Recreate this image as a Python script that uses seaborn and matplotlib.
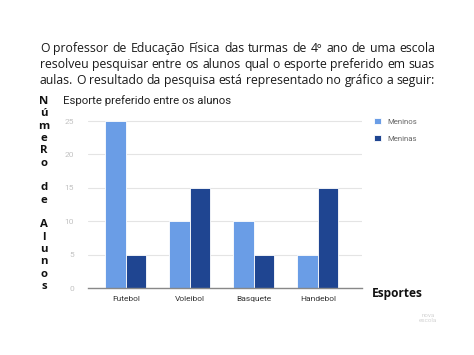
import pandas as pd
import seaborn as sns
import matplotlib.pyplot as plt

esportes = ['Futebol', 'Voleibol', 'Basquete', 'Handebol']
meninos = [25, 10, 10, 5]
meninas = [5, 15, 5, 15]
yticks = [0, 5, 10, 15, 20, 25]

paragrafo = [
    "O professor de Educação Física das turmas de 4º ano de uma escola",
    "resolveu pesquisar entre os alunos qual o esporte preferido em suas",
    "aulas. O resultado da pesquisa está representado no gráfico a seguir:",
]


def justify_line(fig, text, x0, x1, y, **kw):
    # place words so the line fills x0..x1 (figure pixels)
    r = fig.canvas.get_renderer()
    words = text.split()
    arts, widths = [], []
    for w in words:
        t = fig.text(0, 0, w, transform=None, va='baseline', ha='left', **kw)
        bb = t.get_window_extent(renderer=r)
        arts.append(t)
        widths.append(bb.width)
    gap = (x1 - x0 - sum(widths)) / (len(words) - 1)
    x = x0
    H = fig.bbox.height
    for t, w in zip(arts, widths):
        t.set_position((x, H - y))
        x += w + gap


def main():
    sns.set_style("white")
    plt.rcParams['font.family'] = ['Roboto', 'DejaVu Sans']

    df = pd.DataFrame({
        'Esporte': esportes * 2,
        'Valor': meninos + meninas,
        'Grupo': ['Meninos'] * 4 + ['Meninas'] * 4,
    })

    fig = plt.figure(figsize=(4.74, 3.55), dpi=100)
    ax = fig.add_axes([0.1857, 0.1887, 0.578, 0.4986])
    sns.barplot(data=df, x='Esporte', y='Valor', hue='Grupo', ax=ax,
                palette={'Meninos': '#6a9de6', 'Meninas': '#1f4591'},
                width=0.64, edgecolor='white', linewidth=0.6, saturation=1)

    ax.set_xlim(-0.59, 3.69)
    ax.set_ylim(0, 26.5)
    ax.set_yticks(yticks)
    ax.yaxis.grid(True, color='#e4e4e4', linewidth=0.8)
    ax.set_axisbelow(True)
    for s in ['top', 'right', 'left']:
        ax.spines[s].set_visible(False)
    ax.spines['bottom'].set_color('#888888')
    ax.spines['bottom'].set_linewidth(1.0)
    ax.tick_params(axis='y', length=0, labelsize=6, labelcolor='#c2c2c2', pad=10)
    ax.tick_params(axis='x', length=0, labelsize=6, labelcolor='#333333', pad=6)
    ax.set_xlabel('')
    ax.set_ylabel('')

    ax.legend(loc='upper left', bbox_to_anchor=(1.02, 1.0), frameon=False,
              fontsize=5.6, labelcolor='#666666', handlelength=0.9,
              handleheight=0.9, labelspacing=1.25, handletextpad=0.8)

    fig.text(63 / 474, 1 - 101 / 355, 'Esporte preferido entre os alunos',
             fontsize=8.2, color='#222222', va='center', ha='left')

    fig.text(44 / 474, 1 - 194 / 355,
             "N\nú\nm\ne\nR\no\n\nd\ne\n\nA\nl\nu\nn\no\ns",
             fontsize=8.2, fontweight='bold', family=['Open Sans', 'DejaVu Sans'],
             ha='center', va='center', linespacing=1.17, color='#111111')

    fig.text(372 / 474, 1 - 293 / 355, 'Esportes', fontsize=8.6,
             fontweight='bold', family=['Open Sans', 'DejaVu Sans'],
             ha='left', va='center', color='#111111')

    fig.text(428 / 474, 1 - 318 / 355, 'nova\nescola', fontsize=4.5,
             color='#d4d4d4', ha='center', va='center', linespacing=0.9)

    for i, line in enumerate(paragrafo):
        justify_line(fig, line, 40, 435, 52 + 16 * i, fontsize=8.85,
                     family=['Open Sans', 'DejaVu Sans'], color='#1a1a1a')

    fig.savefig('out.png', dpi=100)
    plt.close(fig)


if __name__ == "__main__":
    main()
